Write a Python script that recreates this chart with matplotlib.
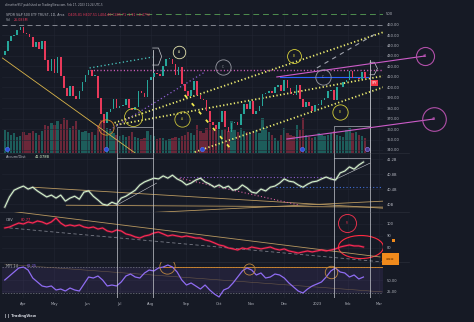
import numpy as np
import matplotlib
matplotlib.use('Agg')
import matplotlib.pyplot as plt
from matplotlib.patches import Ellipse, Rectangle

# ---- data ----
# SPY closes, one value every 2 daily bars (bar 0 = 2022-03-16)
close = [435, 444, 449, 450, 455, 458,
         452, 451, 448, 439, 443, 437, 444, 426, 416, 427,
         414, 429, 411, 399, 392, 401, 392, 389, 396, 405, 412,
         417, 411, 411, 390, 374, 366, 376, 379, 389, 380,
         382, 383, 389, 380, 378, 381, 396, 395, 391, 407,
         410, 414, 413, 411, 420, 427, 427, 422, 412, 419, 403, 396,
         392, 397, 406, 393, 389, 388, 377, 367, 364, 360,
         367, 377, 362, 357, 366, 367, 364, 374, 384, 379, 387,
         374, 377, 382, 394, 395, 396, 395, 400, 402, 396,
         407, 399, 394, 393, 402, 389, 381, 386, 382, 377, 383,
         383, 388, 390, 396, 397, 388, 400, 400, 405, 407,
         416, 409, 409, 408, 415, 409]
first_open = 431
volume = [100, 90, 80, 85, 70, 75,
          90, 80, 85, 95, 85, 80, 95, 120, 115, 130,
          120, 140, 125, 150, 145, 110, 115, 140, 100, 90, 95,
          85, 90, 80, 120, 145, 150, 110, 95, 85, 80,
          75, 80, 70, 75, 90, 70, 65, 60, 65, 95,
          80, 75, 60, 65, 65, 55, 60, 65, 70, 65, 75, 80,
          90, 85, 80, 120, 95, 85, 110, 130, 100, 120,
          110, 100, 105, 95, 140, 100, 90, 110, 95, 90, 85,
          90, 100, 85, 150, 110, 90, 80, 65, 50, 80,
          110, 85, 80, 75, 120, 100, 150, 80, 70, 65, 70,
          85, 80, 75, 80, 85, 95, 80, 75, 70, 100,
          110, 85, 90, 80, 75, 65]

# indicators, one value every 3 daily bars
accum_dist = [39.92, 40.19, 40.37, 40.43, 40.48, 40.40, 40.45, 40.35, 40.27, 40.19,
              40.24, 40.16, 40.24, 40.08, 40.16, 40.21, 40.13, 40.32, 40.35, 40.21,
              40.11, 40.00, 39.97, 40.05, 40.00, 40.16, 40.21, 40.29, 40.37, 40.51,
              40.59, 40.64, 40.69, 40.67, 40.75, 40.69, 40.77, 40.67, 40.61, 40.51,
              40.56, 40.64, 40.69, 40.59, 40.53, 40.45, 40.51, 40.43, 40.48, 40.37,
              40.40, 40.51, 40.43, 40.32, 40.29, 40.40, 40.35, 40.45, 40.48, 40.56,
              40.67, 40.61, 40.59, 40.51, 40.45, 40.53, 40.59, 40.61, 40.67, 40.72,
              40.67, 40.64, 40.83, 40.88, 40.99, 40.93, 41.04, 41.12]
red_osc = [96.7, 97.5, 99.2, 100.8, 100.0, 101.7, 100.8, 102.5, 101.7, 100.0,
           101.7, 105.0, 100.8, 98.3, 99.2, 98.3, 99.2, 97.5, 96.7, 97.5,
           95.8, 96.7, 94.2, 93.3, 95.0, 94.2, 91.7, 90.8, 89.2, 88.3,
           90.0, 90.8, 92.5, 93.3, 91.7, 90.0, 90.8, 90.0, 89.2, 90.0,
           89.2, 88.3, 88.3, 86.7, 85.8, 84.2, 82.5, 81.7, 80.0, 79.2,
           78.3, 80.0, 79.2, 80.8, 80.0, 79.2, 80.0, 80.8, 79.2, 78.3,
           79.2, 77.5, 76.7, 75.8, 76.7, 77.5, 76.7, 77.5, 78.3, 77.5,
           78.3, 79.2, 80.8, 81.7, 82.5, 81.7, 81.7, 80.8]
mfi = [50.0, 59.1, 68.2, 77.3, 79.5, 72.7, 54.5, 45.5, 36.4, 34.1,
       36.4, 27.3, 29.5, 25.0, 31.8, 27.3, 25.0, 40.9, 56.8, 54.5,
       59.1, 50.0, 36.4, 38.6, 36.4, 45.5, 59.1, 63.6, 56.8, 54.5,
       65.9, 72.7, 70.5, 77.3, 79.5, 84.1, 79.5, 68.2, 50.0, 38.6,
       43.2, 36.4, 29.5, 38.6, 27.3, 18.2, 11.4, 27.3, 31.8, 43.2,
       56.8, 70.5, 77.3, 72.7, 61.4, 65.9, 54.5, 56.8, 63.6, 61.4,
       54.5, 43.2, 34.1, 25.0, 20.5, 29.5, 36.4, 40.9, 45.5, 56.8,
       70.5, 77.3, 68.2, 65.9, 56.8, 61.4, 52.3, 56.8]

month_labels = ['Apr', 'May', 'Jun', 'Jul', 'Aug', 'Sep', 'Oct', 'Nov', 'Dec', '2023', 'Feb', 'Mar']
month_bars = [12, 32, 53, 74, 94, 117, 138, 159, 180, 201, 221, 241]

price_ticks = [340, 350, 360, 370, 380, 390, 400, 410, 420, 430, 440, 450, 460]
ad_ticks = [40.0, 40.4, 40.8, 41.2]
ad_labels = ['40B', '40.4B', '40.8B', '41.2B']
red_ticks = [80, 90, 100]
mfi_ticks = [25, 50]

# ---- drawings on the chart, in (bar, value) ----
orange_trend = ([-1.5, 84], [428, 337])
yellow_dotted = [([70.7, 244.3], [366, 453]),
                 ([122.3, 244.3], [338, 400.3]),
                 ([72, 244.3], [364, 411])]
cyan_dotted = ([54.6, 95.2], [418.5, 429])
purple_dotted = ([67.5, 128.8], [359, 414.6])
yellow_dashes = ([115.9, 146.2], [392.6, 340])
white_dashed = ([201, 239.7], [418.5, 452])
pink_dotted_level = 416.6
pink_solid = [([175.2, 270.7], [409.9, 430]), ([181.7, 276.5], [350.5, 369.7])]
blue_level = ([177, 234], [409.9, 409.9])
circles = [(112, 434, 'A', '#e6e6b0', 9), (140.4, 419.4, 'C', '#9a9ca5', 11),
           (186.2, 430, 'B', '#d6d03a', 10), (204.9, 409.9, 'C', '#9a9ca5', 11),
           (65.5, 362, '', '#d98c2a', 11), (82.3, 371.5, '', '#c9c23a', 13),
           (114, 369.6, 'A', '#c9c23a', 11), (215.9, 376.3, 'B', '#d6d03a', 11)]
far_circles = [(270.7, 430, 'A4', 13), (276.5, 369.7, 'A3', 17)]
blue_icons = [1.7, 65.5, 126.8, 191.4]
boxes = [(72, 95.2, 362, 435.7), (212, 235.2, 363, 426)]

W, H = 474, 322
BG = '#161a25'
GRID = '#222633'
TXT = '#b2b5be'
UP, DOWN = '#26a69a', '#e8395a'
FS = 2.6
XLIM = (-1.8, 243.6)

fig = plt.figure(figsize=(W / 100, H / 100), dpi=100, facecolor=BG)


def px_axes(x0, y0, x1, y1, **kw):
    return fig.add_axes([x0 / W, 1 - y1 / H, (x1 - x0) / W, (y1 - y0) / H], **kw)


def style(ax, ticks, labels, ylim):
    ax.set_xlim(*XLIM)
    ax.set_ylim(*ylim)
    ax.set_facecolor('none')
    for s in ax.spines.values():
        s.set_visible(False)
    ax.yaxis.tick_right()
    ax.set_yticks(ticks)
    ax.set_yticklabels(labels)
    ax.set_xticks(month_bars)
    ax.tick_params(axis='both', length=0, labelsize=FS, colors=TXT, pad=2.5)
    ax.tick_params(axis='x', labelbottom=False)
    ax.grid(True, color=GRID, lw=0.4)
    ax.set_axisbelow(True)


# black area on the right
black = px_axes(409, 0, 474, 322, zorder=0)
black.set_facecolor('black')
black.axis('off')

# ---- price pane ----
ax_vol = px_axes(2, 10, 383, 153, zorder=1)
ax_vol.set_facecolor(BG)
ax_vol.set_xlim(*XLIM)
ax_vol.set_ylim(0, 620)
ax_vol.axis('off')

ax = px_axes(2, 10, 383, 153, zorder=3)
style(ax, price_ticks, ['%.2f' % t for t in price_ticks], (337.1, 474.0))

xb = np.arange(len(close)) * 2
opens = [first_open] + close[:-1]
up = np.array(close) >= np.array(opens)
ax_vol.bar(xb, volume, width=1.5, color=np.where(up, '#1f6a65', '#7b2a3d'), alpha=0.85)
bottoms = np.minimum(opens, close)
heights = np.maximum(np.abs(np.array(close) - np.array(opens)), 0.6)
ax.bar(xb, heights, bottom=bottoms, width=1.05, color=np.where(up, UP, DOWN), zorder=3)

ax.axhline(460, color='#b2b5be', lw=0.6, ls=(0, (6, 4)), alpha=0.8)
ax.plot([66, XLIM[1]], [470.1, 470.1], color='#4f8f4f', lw=0.7, ls=(0, (6, 4)))
ax.text(1.006, 470.1, '500', transform=ax.get_yaxis_transform(), fontsize=FS,
        color=TXT, va='center', clip_on=False)
ax.plot(*orange_trend, color='#d9b44a', lw=0.6)
for xs, ys in yellow_dotted:
    ax.plot(xs, ys, color='#eeee70', lw=1.3, ls=(0, (0.7, 1.3)))
ax.plot(*cyan_dotted, color='#4dd0c8', lw=0.9, ls=(0, (1, 2)))
ax.plot(*purple_dotted, color='#8e5fd0', lw=0.9, ls=(0, (1, 2)))
ax.plot(*yellow_dashes, color='#f0ea50', lw=1.3, ls=(0, (2, 4)))
ax.plot(*white_dashed, color='#9fa3ad', lw=0.8, ls=(0, (4, 4)))
ax.plot([55, XLIM[1]], [pink_dotted_level] * 2, color='#d860c0', lw=1.0, ls=(0, (0.8, 1.6)))
for xs, ys in pink_solid:
    ax.plot(xs, ys, color='#cc5cc8', lw=0.8, clip_on=False, zorder=4)
ax.plot(*blue_level, color='#2962ff', lw=0.8)
for x0, x1, top, vtop in boxes:
    ax.plot([x0, x0, x1], [337.1, top, top], color='#9598a1', lw=0.6)
    ax.plot([x1, x1], [337.1, vtop], color='#c8cad0', lw=0.6)
ax.plot([95.2, 99, 101, 99, 95.2], [437.6, 437.6, 429.5, 421.3, 421.3], color='#c8cad0', lw=0.5)
ax.plot([235.2, 238, 240, 238, 235.2], [424, 424, 418, 412, 412], color='#c8cad0', lw=0.5)
for cx, cy, letter, col, ms in circles:
    ax.plot(cx, cy, 'o', mfc='none', mec=col, ms=ms, mew=0.6, zorder=5)
    if letter:
        ax.text(cx, cy, letter, color=col, fontsize=2.2, ha='center', va='center', zorder=5)
for cx, cy, letter, ms in far_circles:
    ax.plot(cx, cy, 'o', mfc='none', mec='#b04fa8', ms=ms, mew=0.8, clip_on=False, zorder=5)
    ax.text(cx, cy, letter, color='#b04fa8', fontsize=2.4, ha='center', va='center',
            clip_on=False)
ax.plot(blue_icons, [341] * len(blue_icons), 'o', color='#2e4fd8', ms=3, mec='#5c7cff', mew=0.4)
ax.plot(233.3, 341, 'o', color='#4a3a8a', ms=3, mec='#9c8cff', mew=0.4)
ax.text(0.977, 404, 'SPY', transform=ax.get_yaxis_transform(), fontsize=2.2, color='white',
        ha='center', va='center', bbox=dict(boxstyle='square,pad=0.3', fc='#f23645', ec='none'))

# ---- accumulation / distribution ----
ax_ad = px_axes(2, 153, 383, 212, zorder=3)
style(ax_ad, ad_ticks, ad_labels, (39.79, 41.36))
xi = np.arange(len(accum_dist)) * 3
for xs, ys in [([17.8, 244.3], [40.45, 39.89]), ([39.6, 244.3], [39.97, 39.92]),
               ([86.8, 244.3], [39.76, 40.08])]:
    ax_ad.plot(xs, ys, color='#b89860', lw=0.6)
ax_ad.plot([112.6, 212], [40.72, 40.72], color='#8e5fd0', lw=0.8, ls=(0, (1, 2)))
ax_ad.plot([112.6, 190], [40.69, 39.97], color='#d860a0', lw=0.8, ls=(0, (1, 2)))
ax_ad.plot([175, 244], [40.45, 40.45], color='#3f6fd8', lw=0.8, ls=(0, (1, 2)))
ax_ad.plot([72, 97.8], [39.97, 40.56], color='#c8cad0', lw=0.4)
ax_ad.plot([212, 235.2], [40.64, 41.09], color='#c8cad0', lw=0.4)
ax_ad.plot(xi, accum_dist, color='white', lw=2.0, alpha=0.18)
ax_ad.plot(xi, accum_dist, color='#d6f5cc', lw=0.8)
for x0, x1, top, vtop in boxes:
    ax_ad.plot([x0, x1], [41.23, 41.23], color='#9598a1', lw=0.6)
ax_ad.text(0.01, 0.93, 'Accum/Dist', transform=ax_ad.transAxes, fontsize=FS, color=TXT, va='center')
ax_ad.text(0.085, 0.93, '41.078B', transform=ax_ad.transAxes, fontsize=FS, color='#d6f5cc', va='center')

# ---- red oscillator ----
ax_r = px_axes(2, 212, 383, 262, zorder=3)
style(ax_r, red_ticks, [str(t) for t in red_ticks], (68.3, 110))
ax_r.plot([3, 241.7], [110.8, 72.5], color='#b89860', lw=0.6)
ax_r.plot([3, 243.6], [96.7, 68.3], color='#787b86', lw=0.6, ls=(0, (4, 3)))
ax_r.plot(xi, red_osc, color='#ff2050', lw=1.8, alpha=0.25)
ax_r.plot(xi, red_osc, color='#ff2a55', lw=0.8)
ax_r.plot(220.4, 100.8, 'o', mfc='none', mec='#e0304a', ms=13, mew=0.7)
ax_r.text(220.4, 100.8, 'R', color='#e0304a', fontsize=2.2, ha='center', va='center')
ax_r.add_patch(Ellipse((229.4, 80.8), 29, 19.2, fill=False, ec='#ff2a40', lw=0.8))
ax_r.text(0.01, 0.84, 'OBV', transform=ax_r.transAxes, fontsize=FS, color=TXT, va='center')
ax_r.text(0.05, 0.84, '80.77', transform=ax_r.transAxes, fontsize=FS, color='#ff2a55', va='center')

# ---- money flow ----
ax_m = px_axes(2, 262, 383, 298, zorder=3)
style(ax_m, mfi_ticks, ['%.2f' % t for t in mfi_ticks], (9.1, 90.9))
ax_m.axhspan(20, 80, color='#7e57c2', alpha=0.12, lw=0)
ax_m.axhline(80, color='#787b86', lw=0.5, ls=(0, (2, 2)))
ax_m.axhline(20, color='#787b86', lw=0.5, ls=(0, (2, 2)))
ax_m.plot([102, XLIM[1]], [80, 80], color='#d98c2a', lw=0.6)
ax_m.plot([0, 243], [86, 23], color='#8a7050', lw=0.4, alpha=0.7)
ax_m.plot(xi, mfi, color='#8f6cf2', lw=0.9)
for cx, cy, ms in [(104.5, 82, 11), (157.6, 74, 8), (209.8, 68, 9)]:
    ax_m.plot(cx, cy, 'o', mfc='none', mec='#c08840', ms=ms, mew=0.6)
ax_m.text(0.01, 0.9, 'MFI 14', transform=ax_m.transAxes, fontsize=FS, color=TXT, va='center')
ax_m.text(0.065, 0.9, '61.25', transform=ax_m.transAxes, fontsize=FS, color='#8f6cf2', va='center')
ax_m.set_xticks(month_bars)
ax_m.set_xticklabels(month_labels)
ax_m.tick_params(axis='x', labelbottom=True, pad=3)

# vertical markers through the lower panes
for a in (ax_ad, ax_r, ax_m):
    for x0, x1, top, vtop in boxes:
        a.axvline(x0, color='#c8cad0', lw=0.5)
        a.axvline(x1, color='#c8cad0', lw=0.5)

# pane separators
for y in (153, 212, 262):
    fig.add_artist(plt.Line2D([0, 409 / W], [1 - y / H] * 2, color='#2a2e39', lw=0.5))

# orange alert icon on the scale
fig.patches.append(Rectangle((382 / W, 1 - 265 / H), 17 / W, 12 / H, transform=fig.transFigure,
                             fc='#f08a1c', ec='none', zorder=5))
fig.text(390 / W, 1 - 259 / H, '≡≡≡', fontsize=2.4, color='#6a3200', ha='center', va='center', zorder=6)
fig.patches.append(Rectangle((392 / W, 1 - 242 / H), 3 / W, 3 / H, transform=fig.transFigure,
                             fc='#f08a1c', ec='none', zorder=5))

# header / footer texts
fig.text(5 / W, 1 - 5 / H, 'dinsetter957 published on TradingView.com, Feb 17, 2023 11:24 UTC-5',
         fontsize=2.0, color=TXT, va='center')
fig.text(6 / W, 1 - 14.5 / H, 'SPDR S&P 500 ETF TRUST, 1D, Arca', fontsize=2.3, color=TXT, va='center')
fig.text(68 / W, 1 - 14.5 / H, 'O405.81 H407.51 L404.40 C405.71 -1.91 (-0.47%)',
         fontsize=2.3, color='#e8395a', va='center')
fig.text(6 / W, 1 - 20 / H, 'Vol', fontsize=2.3, color=TXT, va='center')
fig.text(14 / W, 1 - 20 / H, '26.083M', fontsize=2.3, color='#e8395a', va='center')
fig.text(4 / W, 1 - 316 / H, '\u2759\u2759 TradingView', fontsize=2.6, color='#d1d4dc', va='center',
         weight='bold')

fig.savefig('out.png', dpi=100, facecolor=BG)
